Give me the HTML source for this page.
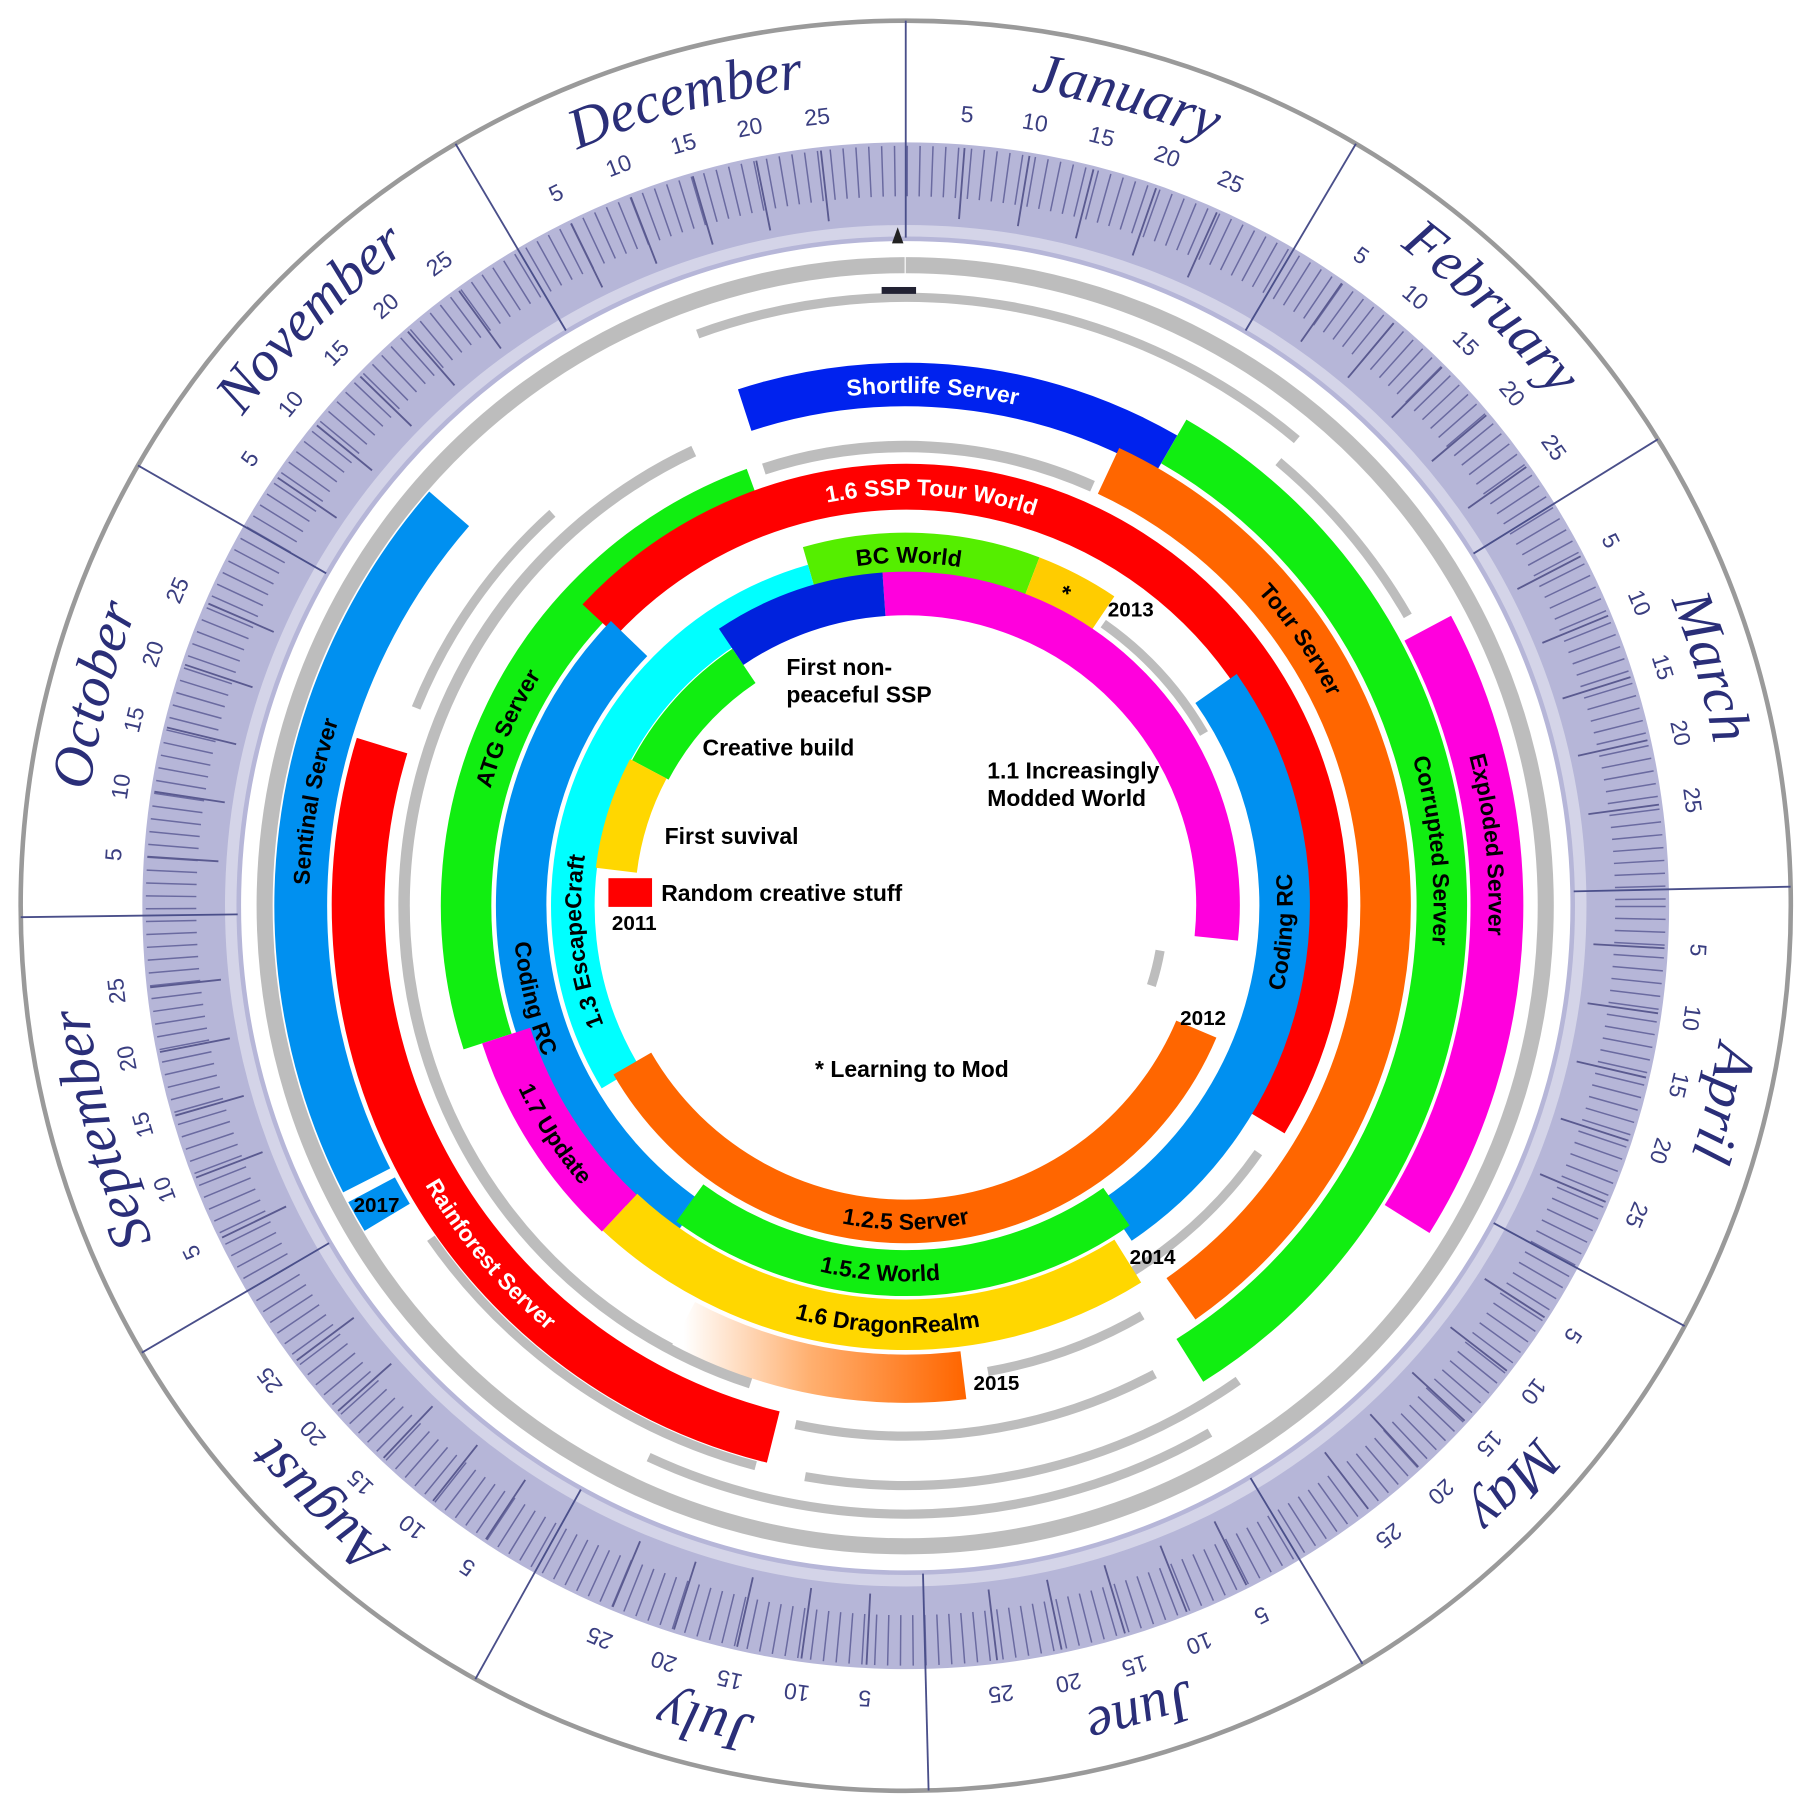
<!DOCTYPE html>
<html><head><meta charset="utf-8">
<style>html,body{margin:0;padding:0;background:#fff}svg{display:block}</style>
</head><body>
<svg id="s" xmlns="http://www.w3.org/2000/svg" width="1800" height="1800" viewBox="0 0 1568 1568">
<rect width="1568" height="1568" fill="#fff"/>
<circle cx="789" cy="789" r="771" fill="#fff" stroke="#9a9a9a" stroke-width="4"/>
<circle cx="789" cy="789" r="622" fill="none" stroke="#b6b6d8" stroke-width="86"/>
<circle cx="789" cy="789" r="640" fill="none" stroke="#6a6aa0" stroke-width="44" stroke-dasharray="1.3 9.55"/>
<circle cx="789" cy="789" r="588" fill="none" stroke="#d4d4e8" stroke-width="10"/>
<g id="g"></g>
</svg>
<script>
var cx=789,cy=789,g=document.getElementById('g'),NS='http://www.w3.org/2000/svg',n=0;
function pt(r,a){var t=a*Math.PI/180;return [(cx+r*Math.sin(t)).toFixed(2),(cy-r*Math.cos(t)).toFixed(2)];}
function el(tag,at,p){var e=document.createElementNS(NS,tag);for(var k in at)e.setAttribute(k,at[k]);(p||g).appendChild(e);return e;}
function arcD(r,a1,a2,cw){var p1=pt(r,a1),p2=pt(r,a2);var span=Math.abs(a2-a1);return 'M'+p1.join(' ')+' A'+r+' '+r+' 0 '+(span>180?1:0)+' '+(cw?1:0)+' '+p2.join(' ');}
function arc(r,w,a1,a2,c){el('path',{d:arcD(r,a1,a2,1),fill:'none',stroke:c,'stroke-width':w});}
function label(r,a,txt,col,cw,sz){sz=sz||20;var id='p'+(n++);var rr=cw?r-sz*0.36:r+sz*0.36;
 var d=cw?arcD(rr,a-60,a+60,1):arcD(rr,a+60,a-60,0);
 el('path',{id:id,d:d,fill:'none'},g);
 var t=el('text',{'font-family':'Liberation Sans, sans-serif','font-weight':'bold','font-size':sz,fill:col,'text-anchor':'middle'});
 var tp=el('textPath',{href:'#'+id,startOffset:'50%'},t);tp.textContent=txt;}
// month lines
var md=[0,31,59,90,120,151,181,212,243,273,304,334,365];
for(var i=0;i<12;i++){var a=md[i]*360/365;var p1=pt(582,a),p2=pt(771,a);el('line',{x1:p1[0],y1:p1[1],x2:p2[0],y2:p2[1],stroke:'#4a4f8a','stroke-width':1.6});}
// 5-day longer ticks and day numbers
var dayNums=['5','10','15','20','25'];
for(var i=0;i<12;i++){for(var j=0;j<5;j++){var d=md[i]+5*(j+1)-0.5;var a=d*360/365;
 var p1=pt(600,a),p2=pt(662,a);el('line',{x1:p1[0],y1:p1[1],x2:p2[0],y2:p2[1],stroke:'#5a5a90','stroke-width':1.6});
 var p=pt(690,a);var t=el('text',{x:p[0],y:p[1],'font-family':'Liberation Sans, sans-serif','font-size':20,fill:'#3a3e80','text-anchor':'middle','dominant-baseline':'middle',transform:'rotate('+a.toFixed(2)+' '+p[0]+' '+p[1]+')'});t.textContent=dayNums[j];}}
var months=['January','February','March','April','May','June','July','August','September','October','November','December'];
for(var i=0;i<12;i++){var a=(md[i]+md[i+1])/2*360/365;var id='m'+i;el('path',{id:id,d:arcD(718,a-60,a+60,1),fill:'none'});
 var t=el('text',{'font-family':'Liberation Serif, serif','font-style':'italic','font-size':50,fill:'#2a2e78','text-anchor':'middle'});
 var tp=el('textPath',{href:'#'+id,startOffset:'50%'},t);tp.textContent=months[i];}
// gray rings
var G='#bdbdbd';
arc(558,14,0,359.9,G);arc(530,8,-20,40,G);arc(505,8,195,235,G);arc(505,8,145,190,G);
arc(437,10,198,335,G);arc(460,8,292,318,G);arc(400,10,-18,24,G);arc(375,8,125,150,G);
arc(300,8,35,60,G);arc(225,8,100,108,G);arc(412,8,150,170,G);arc(462,8,152,192,G);arc(530,8,150,205,G);
arc(505,8,40,60,G);
// colored arcs
arc(454,38,-18,30,'#0022ee');
arc(527,46,243,311,'#0090f0');arc(527,46,239,242,'#0090f0');
arc(477,46,194,287,'#ff0000');
arc(383,44,252,340,'#11ee11');
arc(365,40,313,481,'#ff0000');
arc(418,44,25,145,'#ff6600');
arc(467,44,30,148,'#11ee11');
arc(515,46,62,122,'#ff00dd');
arc(330,44,55,146,'#0090f0');arc(335,44,215,314,'#0090f0');
arc(306,38,-16,21,'#55ee00');arc(306,38,21,34,'#ffcc00');
arc(290,38,239,344,'#00ffff');
arc(272,38,-4,96,'#ff00dd');arc(272,38,-34,-4,'#0022dd');
arc(252,36,-62,-34,'#11ee11');arc(254,36,-83,-62,'#ffd700');
el('rect',{x:530,y:765,width:38,height:25,fill:'#ff0000'});
arc(275,38,113,240,'#ff6600');
arc(320,40,145,216,'#11ee11');
arc(365,44,148,223,'#ffd700');
arc(366,44,223,252,'#ff00dd');
var gd=el('linearGradient',{id:'og',x1:'1',y1:'0',x2:'0',y2:'0'});
el('stop',{offset:'0','stop-color':'#ff6600'},gd);el('stop',{offset:'0.55','stop-color':'#ffb070'},gd);el('stop',{offset:'1','stop-color':'#ffffff'},gd);
arc(412,42,173,208,'url(#og)');
// labels
label(454,3,'Shortlife Server','#fff',1);
label(527,280,'Sentinal Server','#000',1);
label(477,230,'Rainforest Server','#fff',0);
label(383,294,'ATG Server','#000',1);
label(365,3.6,'1.6 SSP Tour World','#fff',1);
label(418,56,'Tour Server','#000',1);
label(467,84,'Corrupted Server','#000',1);
label(515,84,'Exploded Server','#000',1);
label(330,94,'Coding RC','#000',0);
label(335,256,'Coding RC','#000',0);
label(306,0.5,'BC World','#000',1);
label(306,27,'*','#000',1);
label(290,263.7,'1.3 EscapeCraft','#000',1);
label(366,237,'1.7 Update','#000',0);
label(275,180,'1.2.5 Server','#000',0);
label(320,184,'1.5.2 World','#000',0);
label(365,182.5,'1.6 DragonRealm','#000',0);
</script>
<svg style="position:absolute;left:0;top:0" width="1800" height="1800" viewBox="0 0 1568 1568" font-family="Liberation Sans, sans-serif" font-weight="bold">
<polygon points="782,198 777,212 787,212" fill="#222"/>
<rect x="768" y="250" width="30" height="6" fill="#223"/>
<g font-size="20" fill="#000">
<text x="685" y="588">First non-</text><text x="685" y="612">peaceful SSP</text>
<text x="612" y="658">Creative build</text>
<text x="579" y="735">First suvival</text>
<text x="576" y="785">Random creative stuff</text>
<text x="860" y="678">1.1 Increasingly</text><text x="860" y="702">Modded World</text>
<text x="710" y="938">* Learning to Mod</text>
</g>
<g font-size="18" fill="#000">
<text x="533" y="810">2011</text><text x="1028" y="893">2012</text><text x="965" y="537">2013</text>
<text x="984" y="1101">2014</text><text x="848" y="1211">2015</text><text x="308" y="1056">2017</text>
</g>
</svg>
</body></html>
